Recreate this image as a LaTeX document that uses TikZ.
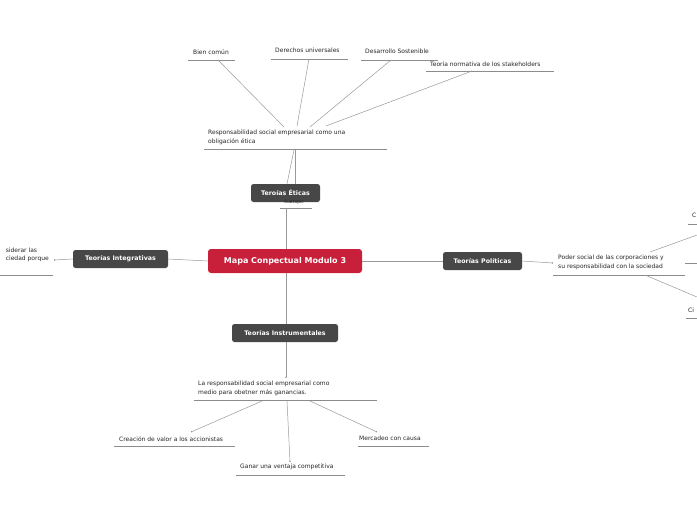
\documentclass[tikz,border=0pt]{standalone}
\usepackage{fontspec}
\setmainfont{DejaVu Sans}
\usetikzlibrary{arrows.meta}
\begin{document}
\begin{tikzpicture}[x=1pt,y=-1pt,
  topic/.style={draw=none,fill=black!72,rounded corners=2.5pt,text=white,font=\bfseries\fontsize{6.3}{7}\selectfont,minimum height=18pt,inner xsep=6pt},
  leaf/.style={anchor=north west,inner sep=0pt,align=left,font=\fontsize{6}{8.5}\selectfont,text=black!85},
  uline/.style={draw=black!45,line width=0.5pt},
  conn/.style={draw=black!40,line width=0.5pt},
  tip/.style={conn,-{Circle[length=1.4pt]}}]
\useasboundingbox (0,0) rectangle (697,520);
\fill[white] (0,0) rectangle (697,520);
% nodes
\node[fill={rgb,255:red,200;green,32;blue,58},rounded corners=3pt,text=white,font=\bfseries\fontsize{8}{9}\selectfont,minimum width=154pt,minimum height=24pt] (main) at (285,261) {Mapa Conpectual Modulo 3};
\node[topic,minimum width=69pt] (eti) at (285.5,193) {Teroías Éticas};
\node[topic,minimum width=95pt] (int) at (120.5,259) {Teorías Integrativas};
\node[topic,minimum width=79pt] (pol) at (482.5,261) {Teorías Políticas};
\node[topic,minimum width=106pt] (ins) at (285,333) {Teorías Instrumentales};
% leaves
\node[leaf] (resp) at (208,130) {Responsabilidad social empresarial como una\\obligación ética};
\node[leaf] (bien) at (193,49) {Bien común};
\node[leaf] (der) at (275,48) {Derechos universales};
\node[leaf] (des) at (365,49) {Desarrollo Sostenible};
\node[leaf] (nor) at (430,61) {Teoría normativa de los stakeholders};
\node[leaf,font=\fontsize{4.5}{5}\selectfont] (sub) at (284,199.5) {Subtopic};
\node[leaf,anchor=north east] (izq) at (49,247.5) {siderar las\\ciedad porque};
\node[leaf] (pod) at (558,255) {Poder social de las corporaciones y\\su responsabilidad con la sociedad};
\node[leaf] (c1) at (692,213) {C};
\node[leaf] (c2) at (688,308) {Ci};
\node[leaf] (lar) at (198,381) {La responsabilidad social empresarial como\\medio para obetner más ganancias.};
\node[leaf] (cre) at (119,436) {Creación de valor a los accionistas};
\node[leaf] (gan) at (240,464) {Ganar una ventaja competitiva};
\node[leaf] (mer) at (359,436) {Mercadeo con causa};
% underlines
\draw[uline] (204,149) -- (387,149);
\draw[uline] (188,60) -- (235,60);
\draw[uline] (271,59) -- (348,59);
\draw[uline] (361,60) -- (438,60);
\draw[uline] (426,71) -- (554,71);
\draw[uline] (280,208) -- (312,208);
\draw[uline] (0,275) -- (53,275);
\draw[uline] (553,275) -- (685,275);
\draw[uline] (688,224) -- (697,224);
\draw[uline] (685,263) -- (697,263);
\draw[uline] (686,318) -- (697,318);
\draw[uline] (194,400) -- (377,400);
\draw[uline] (114,446) -- (235,446);
\draw[uline] (236,475) -- (345,475);
\draw[uline] (358,446) -- (429,446);
% connectors
\coordinate (rb1) at (284,127); \coordinate (rb2) at (297,126);
\coordinate (rb3) at (310,127); \coordinate (rb4) at (326,126);
\draw[tip] (rb1) -- (218,60);
\draw[tip] (rb2) -- (309,59);
\draw[tip] (rb3) -- (391,60);
\draw[tip] (rb4) -- (472,71);
\draw[conn] (eti.north -| 287,0) -- (294,150);
\draw[conn] (eti.north -| 295,0) -- (295,150);
\draw[conn] (main.north -| 286,0) -- (286,208);
\draw[conn] (main.west) -- (int.east);
\draw[tip] (int.west) -- (54,260);
\draw[conn] (main.east) -- (pol.west);
\draw[tip] (pol.east) -- (553,263);
\draw[conn] (650,252) -- (697,235);
\draw[conn] (645,275) -- (697,297);
\draw[conn] (main.south -| 286,0) -- (ins.north -| 286,0);
\draw[tip] (ins.south -| 286,0) -- (286,378);
\draw[tip] (262,401) -- (191,432);
\draw[tip] (287,401) -- (290,462);
\draw[tip] (310,401) -- (377,432);
\end{tikzpicture}
\end{document}
